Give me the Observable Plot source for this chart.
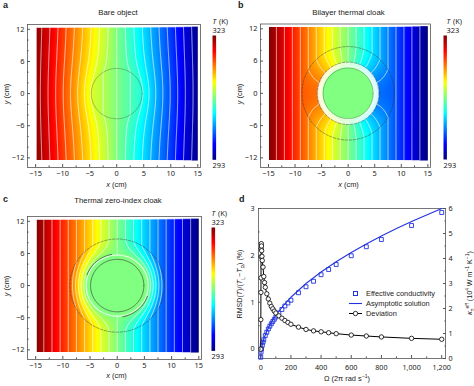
<!DOCTYPE html>
<html><head><meta charset="utf-8">
<script src="https://cdn.jsdelivr.net/npm/d3@7"></script>
<script src="https://cdn.jsdelivr.net/npm/@observablehq/plot@0.6"></script>
<style>
body{margin:0;background:#fff;}
#fig{position:relative;width:474px;height:386px;overflow:hidden;font-family:"Liberation Sans",Arial,Helvetica,sans-serif;color:#222;background:#fff}
#fig svg{position:absolute;overflow:visible}
.t{position:absolute;white-space:nowrap;line-height:1;transform:translate(-50%,-50%)}
.rot{transform:translate(-50%,-50%) rotate(-90deg)}
.lt{position:absolute;font-weight:bold;font-size:9px;line-height:1}
sub,sup{font-size:70%;line-height:0}
</style></head><body><div id="fig"></div>
<script>
// ---------- data ----------
const tempDomain = [293, 323];               // colour bar (K)
const cbarLabels = [323, 293];
const isoLevels = [294.5, 296, 297.5, 299, 300.5, 302, 303.5, 305, 306.5, 308, 309.5, 311, 312.5, 314, 315.5, 317, 318.5, 320, 321.5];
const fieldX = [-15, 15];                    // simulated domain (cm)
const fieldY = [-12.5, 12.5];
const frameX = [-16.5, 15.5];
const frameY = [-13.8, 12.9];
const xTicks = [-15, -10, -5, 0, 5, 10, 15];
const xMinor = [-12.5, -7.5, -2.5, 2.5, 7.5, 12.5];
const yTicks = [-12, -6, 0, 6, 12];
const yMinor = [-10, -8, -4, -2, 2, 4, 8, 10];
const bareRadius = 4.7;                      // object radius (cm)
const bareContrast = 0.4;                    // (k_obj - k_bg)/(k_obj + k_bg)
const bilayerRadii = [4.7, 5.8, 8.7];        // object, insulating layer, outer layer
const zeroRadii = [4.9, 5.7, 5.9, 8.7];      // object, uniform core, rotating ring, cloak
const zeroArcs = [[100, 160], [-80, -20]];   // degrees
const panelTitles = ["Bare object", "Bilayer thermal cloak", "Thermal zero-index cloak"];

const omegaTicks = [0, 200, 400, 600, 800, 1000, 1200];
const omegaMinor = [100, 300, 500, 700, 900, 1100];
const rmsdTicks = [0, 1, 2, 3];
const rmsdMinor = [0.5, 1.5, 2.5];
const rmsdDomain = [-0.2, 3];
const kappaTicks = [0, 1, 2, 3, 4, 5, 6];
const kappaMinor = [0.5, 1.5, 2.5, 3.5, 4.5, 5.5];
const kappaDomain = [0, 6];
const effOmega = [0, 2, 5, 10, 15, 20, 30, 40, 50, 60, 70, 80, 90, 100, 120, 140, 160, 180, 200, 250, 300, 350, 400, 450, 500, 600, 700, 800, 1000, 1200];
const effKappa = [0.05, 0.25, 0.38, 0.53, 0.65, 0.75, 0.92, 1.05, 1.18, 1.29, 1.39, 1.48, 1.57, 1.66, 1.82, 1.96, 2.1, 2.22, 2.33, 2.63, 2.87, 3.09, 3.35, 3.56, 3.76, 4.11, 4.47, 4.76, 5.32, 5.84];
const asymOmega = [0, 2, 5, 10, 20, 35, 50, 75, 100, 150, 200, 300, 400, 500, 600, 700, 800, 900, 1000, 1100, 1200];
const asymKappa = [0, 0.25, 0.39, 0.55, 0.78, 1.02, 1.22, 1.5, 1.73, 2.12, 2.45, 3.0, 3.46, 3.87, 4.24, 4.58, 4.9, 5.2, 5.48, 5.74, 6.0];
const devOmega = [0, 0.5, 1, 1.5, 2, 3, 4, 5, 6, 8, 10, 15, 20, 25, 30, 40, 50, 60, 70, 80, 90, 100, 120, 140, 160, 180, 200, 250, 300, 350, 400, 450, 500, 600, 700, 800, 1000, 1200];
const devRmsd = [0.0, 0.63, 1.21, 1.52, 1.97, 2.14, 2.25, 2.2, 2.1, 1.98, 1.89, 1.75, 1.55, 1.42, 1.32, 1.18, 1.07, 0.98, 0.91, 0.86, 0.81, 0.77, 0.71, 0.66, 0.61, 0.57, 0.53, 0.47, 0.42, 0.39, 0.37, 0.35, 0.33, 0.30, 0.28, 0.26, 0.23, 0.21];
const legendItems = ["Effective conductivity", "Asymptotic solution", "Deviation"];

// ---------- helpers ----------
const FONT = '"Liberation Sans", Arial, Helvetica, sans-serif';
const jetScale = d3.scaleLinear().domain([0, 0.125, 0.375, 0.625, 0.875, 1])
  .range(["#00007f", "#0000ff", "#00ffff", "#ffff00", "#ff0000", "#7f0000"]).interpolate(d3.interpolateRgb);
const jet = t => jetScale(t);
const colorOpt = {type: "linear", domain: tempDomain, interpolate: jet};
const T0 = (tempDomain[0] + tempDomain[1]) / 2;
const G = (tempDomain[1] - tempDomain[0]) / (fieldX[1] - fieldX[0]);

function fieldBare(x, y) {
  const R = bareRadius, b = bareContrast, r2 = x * x + y * y;
  if (r2 >= R * R) return T0 - G * x * (1 - b * R * R / r2);
  return T0 - G * x * (1 - b);
}
function fieldBilayer(x, y) {
  const [R1, R2, R3] = bilayerRadii; const r2 = x * x + y * y, r = Math.sqrt(r2);
  if (r >= R3) return T0 - G * x;
  const a = R3 * R3 / (R3 * R3 + R2 * R2);
  if (r >= R2) return T0 - G * a * x * (1 + R2 * R2 / r2);
  if (r >= R1) { const tb = T0 - G * a * (x / r) * 2 * R2; return T0 + (tb - T0) * (r - R1) / (R2 - R1); }
  return T0 - 1e-4 * x;
}
function fieldZero(x, y) {
  const Rc = zeroRadii[1], R3 = zeroRadii[3]; const r2 = x * x + y * y, r = Math.sqrt(r2);
  if (r >= R3) return T0 - G * x;
  const a = R3 * R3 / (R3 * R3 - Rc * Rc);
  if (r >= Rc) return T0 - G * a * x * (1 - Rc * Rc / r2);
  return T0 - 1e-4 * x;
}
const circle = (R, a0 = 0, a1 = 360) => d3.range(a0, a1 + 0.01, 2).map(t => ({x: R * Math.cos(t * Math.PI / 180), y: R * Math.sin(t * Math.PI / 180)}));
const disc = R => d3.range(180, -0.01, -2).map(t => {const a = t * Math.PI / 180; return {x: R * Math.cos(a), lo: -R * Math.sin(a), hi: R * Math.sin(a)};});

const fig = document.getElementById("fig");
function place(el, left, top) { el.style.left = left + "px"; el.style.top = top + "px"; fig.appendChild(el); return el; }
function text(html, x, y, size, cls = "t") { const d = document.createElement("div"); d.className = cls; d.innerHTML = html; d.style.fontSize = size + "px"; return place(d, x, y); }

function heatPanel(p) {
  const m = p.m;
  const pxPerCm = (237 - m.l - m.r) / (frameX[1] - frameX[0]);
  const svg = Plot.plot({
    width: 237, height: 193, marginLeft: m.l, marginRight: m.r, marginTop: m.t, marginBottom: m.b,
    x: {domain: frameX}, y: {domain: frameY}, color: colorOpt,
    style: {fontFamily: FONT, fontSize: "7px", color: "#222", background: "transparent"},
    marks: [
      Plot.raster({x1: fieldX[0], x2: fieldX[1], y1: fieldY[0], y2: fieldY[1], fill: p.field, pixelSize: 0.5}),
      Plot.contour({x1: fieldX[0], x2: fieldX[1], y1: fieldY[0], y2: fieldY[1], value: p.field, thresholds: isoLevels, pixelSize: 0.5,
        fill: "none", stroke: "white", strokeWidth: 0.75, strokeOpacity: 0.9}),
      ...p.overlays(pxPerCm),
      Plot.frame({stroke: "#555", strokeWidth: 0.8}),
      Plot.axisX(xTicks, {anchor: "bottom", tickSize: -3, tickPadding: 6, label: null, stroke: "#555", fontSize: 7.4}),
      Plot.axisX(xMinor, {anchor: "bottom", tickSize: -1.6, text: null, label: null, stroke: "#555"}),
      Plot.axisY(yTicks, {anchor: "left", tickSize: -3, tickPadding: 6, label: null, stroke: "#555", fontSize: 7.4}),
      Plot.axisY(yMinor, {anchor: "left", tickSize: -1.6, text: null, label: null, stroke: "#555"})
    ]
  });
  svg.setAttribute("style", ""); svg.style.position = "absolute";
  place(svg, p.left, p.top);
  // colour bar
  const c = p.cbar, barH = c.bottom - c.top;
  const lab = {x: 0, textAnchor: "start", fontSize: 7.4, fill: "#222"};
  const cb = Plot.plot({
    width: 34, height: barH + 36, marginTop: 22, marginBottom: 14, marginLeft: 0, marginRight: 34 - c.w,
    x: {domain: [0, 1], axis: null}, y: {domain: tempDomain, axis: null}, color: colorOpt,
    style: {fontFamily: FONT, fontSize: "7.4px", color: "#222", background: "transparent"},
    marks: [
      Plot.raster({x1: 0, x2: 1, y1: tempDomain[0], y2: tempDomain[1], fill: (x, y) => y, pixelSize: 0.5}),
      Plot.text([cbarLabels[0]], {...lab, y: d => d, text: d => String(d), dy: -5, dx: c.dx1}),
      Plot.text([cbarLabels[1]], {...lab, y: d => d, text: d => String(d), dy: 6, dx: c.dx2}),
      Plot.text(["T"], {...lab, y: () => tempDomain[1], text: d => d, dy: -14, dx: c.dx1, fontStyle: "italic"}),
      Plot.text(["(K)"], {...lab, y: () => tempDomain[1], text: d => d, dy: -14, dx: c.dx1 + 6.5})
    ]
  });
  cb.setAttribute("style", ""); cb.style.position = "absolute";
  place(cb, c.left, c.top - 22);
}

const darkLine = {stroke: "#333", strokeWidth: 0.6, strokeOpacity: 0.75};

// Panel a
heatPanel({left: 0, top: 0, m: {l: 27, r: 37, t: 24, b: 26}, field: fieldBare,
  overlays: () => [Plot.line(circle(bareRadius), {x: "x", y: "y", ...darkLine, strokeOpacity: 0.55})],
  cbar: {left: 212, top: 35, bottom: 159.3, w: 3.6, dx1: 0, dx2: 0}});
// Panel b
heatPanel({left: 237, top: 0, m: {l: 23, r: 44, t: 23.5, b: 26}, field: fieldBilayer,
  overlays: px => [
    Plot.line(circle((bilayerRadii[0] + bilayerRadii[1]) / 2), {x: "x", y: "y", stroke: "white", strokeWidth: (bilayerRadii[1] - bilayerRadii[0]) * px, strokeOpacity: 0.72}),
    Plot.area(disc(bilayerRadii[0]), {x1: "x", y1: "lo", y2: "hi", fill: () => T0}),
    Plot.line(circle(bilayerRadii[0]), {x: "x", y: "y", ...darkLine, strokeOpacity: 0.5}),
    Plot.line(circle(bilayerRadii[1]), {x: "x", y: "y", ...darkLine, strokeDasharray: "2.5,1.5"}),
    Plot.line(circle(bilayerRadii[2]), {x: "x", y: "y", ...darkLine, strokeDasharray: "2.5,1.5"})
  ],
  cbar: {left: 443, top: 35, bottom: 159, w: 3.4, dx1: 3, dx2: 0}});
// Panel c
heatPanel({left: 0, top: 193, m: {l: 27, r: 36, t: 23, b: 27}, field: fieldZero,
  overlays: () => [
    Plot.area(disc(zeroRadii[1]), {x1: "x", y1: "lo", y2: "hi", fill: () => T0}),
    Plot.line(circle(zeroRadii[1]), {x: "x", y: "y", stroke: "white", strokeWidth: 1.2, strokeOpacity: 0.75}),
    Plot.line(circle(zeroRadii[0]), {x: "x", y: "y", ...darkLine, strokeWidth: 0.8}),
    ...zeroArcs.map(([a0, a1]) => Plot.line(circle(zeroRadii[2], a0, a1), {x: "x", y: "y", ...darkLine, strokeWidth: 0.9})),
    Plot.line(circle(zeroRadii[3]), {x: "x", y: "y", ...darkLine, strokeDasharray: "2.5,1.5"})
  ],
  cbar: {left: 211, top: 227.3, bottom: 350.7, w: 3.6, dx1: 0, dx2: 0}});

// Panel d
const toLeft = v => rmsdDomain[0] + (v - kappaDomain[0]) * (rmsdDomain[1] - rmsdDomain[0]) / (kappaDomain[1] - kappaDomain[0]);
const fromLeft = y => kappaDomain[0] + (y - rmsdDomain[0]) * (kappaDomain[1] - kappaDomain[0]) / (rmsdDomain[1] - rmsdDomain[0]);
const BLUE = "#2233dd";
const eff = effOmega.map((w, i) => ({w, k: effKappa[i]}));
const asym = asymOmega.map((w, i) => ({w, k: asymKappa[i]}));
const dev = devOmega.map((w, i) => ({w, v: devRmsd[i]}));
const svgD = Plot.plot({
  width: 237, height: 193, marginLeft: 21, marginRight: 29, marginTop: 15, marginBottom: 28,
  x: {domain: [-15, 1225]}, y: {domain: rmsdDomain},
  style: {fontFamily: FONT, fontSize: "7px", color: "#222", background: "transparent"},
  marks: [
    Plot.frame({stroke: "#555", strokeWidth: 0.8}),
    Plot.line(asym, {x: "w", y: d => toLeft(d.k), stroke: BLUE, strokeWidth: 1.1}),
    Plot.dot(eff, {x: "w", y: d => toLeft(d.k), symbol: "square", r: 2.2, stroke: BLUE, strokeWidth: 0.9, fill: "none"}),
    Plot.line(dev, {x: "w", y: "v", stroke: "black", strokeWidth: 1}),
    Plot.dot(dev, {x: "w", y: "v", r: 2.2, stroke: "black", strokeWidth: 0.8, fill: "white"}),
    Plot.axisX(omegaTicks, {anchor: "bottom", tickSize: -3, tickPadding: 9, label: null, stroke: "#555", tickFormat: d3.format(","), fontSize: 7.2}),
    Plot.axisX(omegaMinor, {anchor: "bottom", tickSize: -1.6, text: null, label: null, stroke: "#555"}),
    Plot.axisY(rmsdTicks, {anchor: "left", tickSize: -3, tickPadding: 7, label: null, stroke: "#555", fontSize: 7.2}),
    Plot.axisY(rmsdMinor, {anchor: "left", tickSize: -1.6, text: null, label: null, stroke: "#555"}),
    Plot.axisY(kappaTicks.map(toLeft), {anchor: "right", tickSize: -3, tickPadding: 6, label: null, stroke: "#555", fontSize: 7.2, tickFormat: d => String(Math.round(fromLeft(d)))}),
    Plot.axisY(kappaMinor.map(toLeft), {anchor: "right", tickSize: -1.6, text: null, label: null, stroke: "#555"})
  ]
});
svgD.setAttribute("style", ""); svgD.style.position = "absolute";
place(svgD, 237, 193);

// legend for d
const lg = document.createElement("div");
lg.style.cssText = "position:absolute;font-size:7.4px;line-height:1;";
const syms = [
  `<svg width="14" height="8" style="position:static;vertical-align:middle"><rect x="4.5" y="1.5" width="4" height="4" fill="none" stroke="${BLUE}" stroke-width="1"/></svg>`,
  `<svg width="14" height="8" style="position:static;vertical-align:middle"><line x1="0" y1="3.5" x2="13" y2="3.5" stroke="${BLUE}" stroke-width="1.1"/></svg>`,
  `<svg width="14" height="8" style="position:static;vertical-align:middle"><line x1="0" y1="3.5" x2="13" y2="3.5" stroke="black" stroke-width="1"/><circle cx="6.5" cy="3.5" r="2.2" fill="white" stroke="black" stroke-width="0.8"/></svg>`
];
legendItems.forEach((s, i) => {
  const row = document.createElement("div");
  row.style.cssText = `position:absolute;left:0;top:${i * 9.8}px;white-space:nowrap;display:flex;align-items:center;`;
  row.innerHTML = syms[i] + `<span style="margin-left:3px">${s}</span>`;
  lg.appendChild(row);
});
place(lg, 349, 290);

// ---------- text ----------
text("a", 3, 1, 9, "lt"); text("b", 238, 1, 9, "lt"); text("c", 3, 195, 9, "lt"); text("d", 239, 195, 9, "lt");
text(panelTitles[0], 118, 12.5, 7.8);
text(panelTitles[1], 348.5, 12.5, 7.8);
text(panelTitles[2], 118, 200.5, 7.8);
text("<i>x</i> (cm)", 116.5, 185, 7.4);
text("<i>x</i> (cm)", 348.5, 185, 7.4);
text("<i>x</i> (cm)", 116.5, 375.5, 7.4);
text("<i>y</i> (cm)", 6.5, 94, 7.4, "t rot");
text("<i>y</i> (cm)", 240, 94, 7.4, "t rot");
text("<i>y</i> (cm)", 6.5, 285.5, 7.4, "t rot");
text("Ω (2π rad s<sup>−1</sup>)", 347, 378.5, 7.4);
text("RMSD(<i>T</i>)/(<i>T</i><sub>L</sub>−<i>T</i><sub>R</sub>) (%)", 241, 284, 7.1, "t rot");
text("<i>κ</i><sub>2</sub><sup>eff</sup> (10<sup>4</sup> W m<sup>−1</sup> K<sup>−1</sup>)", 470.5, 283, 7.1, "t rot");
</script></body></html>
